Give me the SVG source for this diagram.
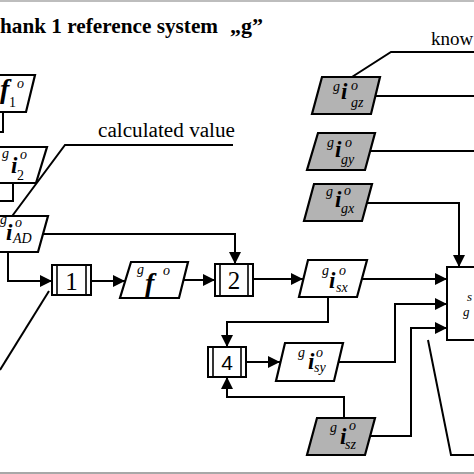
<svg xmlns="http://www.w3.org/2000/svg" width="474" height="474" viewBox="0 0 474 474">
<defs>
<marker id="ah" markerUnits="userSpaceOnUse" markerWidth="12" markerHeight="12" refX="12" refY="6" orient="auto">
<path d="M0,0 L12,6 L0,12 z" fill="#000"/>
</marker>
<style>
.pg{fill:#fff;stroke:#000;stroke-width:2.2}
.gr{fill:#b3b3b3;stroke:#000;stroke-width:2.2}
.bx{fill:#fff;stroke:#000;stroke-width:2}
.in{stroke:#000;stroke-width:1.6}
.ln{fill:none;stroke:#000;stroke-width:2}
.ar{fill:none;stroke:#000;stroke-width:2;marker-end:url(#ah)}
.t{font-family:"Liberation Serif","Times New Roman",serif;fill:#000}
.sup{font-family:"Liberation Serif",serif;font-style:italic;font-size:14px}
.bi{font-family:"Liberation Serif",serif;font-style:italic;font-weight:bold;font-size:23px}
.bf{font-family:"Liberation Serif",serif;font-style:italic;font-weight:bold;font-size:28px}
.sub{font-family:"Liberation Serif",serif;font-style:italic;font-size:14px}
.subu{font-family:"Liberation Serif",serif;font-size:14px}
.num{font-family:"Liberation Serif",serif;font-size:25px;text-anchor:middle}
.num4{font-family:"Liberation Sans",sans-serif;font-size:21px;text-anchor:middle}
.sm{font-family:"Liberation Serif",serif;font-style:italic;font-size:13px}
</style>
</defs>
<rect x="0" y="0" width="474" height="2" fill="#bdbdbd"/>
<rect x="0" y="472" width="474" height="2" fill="#a8a8a8"/>

<g id="title">
<text class="t" x="0" y="33" font-size="21" font-weight="bold" textLength="218" lengthAdjust="spacingAndGlyphs">hank 1 reference system</text>
<text class="t" x="230" y="33" font-size="21" font-weight="bold" textLength="33" lengthAdjust="spacingAndGlyphs">„g”</text>
</g>
<g id="label-calculated">
<text class="t" x="98" y="137" font-size="20" textLength="137" lengthAdjust="spacingAndGlyphs">calculated value</text>
</g>
<g id="label-known">
<text class="t" x="431" y="45" font-size="19">know</text>
</g>

<g id="connectors">
<path class="ln" d="M3,112 V132 H-2"/>
<path class="ln" d="M13,183 V201 H-2"/>
<path class="ln" d="M233,145 H65 L7,223"/>
<path class="ar" d="M43,234 H235 V264"/>
<path class="ar" d="M8,252 V281 H52"/>
<path class="ar" d="M91,281 H125"/>
<path class="ar" d="M184,280 H215"/>
<path class="ar" d="M253,279 H303"/>
<path class="ar" d="M362,279 H447"/>
<path class="ar" d="M328,297 V322 H227 V347"/>
<path class="ar" d="M246,362 H280"/>
<path class="ar" d="M339,362 H395 V304 H447"/>
<path class="ar" d="M344,418 V397 H227 V377"/>
<path class="ar" d="M370,436 H411 V328 H447"/>
<path class="ar" d="M367,203 H459 V267"/>
<path class="ln" d="M370,151 H476"/>
<path class="ln" d="M376,96 H476"/>
<path class="ln" d="M476,52 H391 L341,84"/>
<path class="ln" d="M49,291 L0,370"/>
<path class="ln" d="M428,340 L451,455 H476"/>
</g>

<g id="node-f1">
<polygon class="pg" points="-10,75 35,75 26,112 -19,112"/>
<text class="bf" x="0" y="98">f</text>
<text class="sup" x="17" y="88">o</text>
<text class="subu" x="9" y="107">1</text>
</g>
<g id="node-i2">
<polygon class="pg" points="-10,147 47,147 36,183 -20,183"/>
<text class="sup" x="2" y="158">g</text>
<text class="bi" x="11" y="173">i</text>
<text class="sup" x="20" y="159">o</text>
<text class="subu" x="17" y="180">2</text>
</g>
<g id="node-iAD">
<polygon class="pg" points="-10,216 48,216 38,252 -20,252"/>
<text class="sup" x="0" y="224">g</text>
<text class="bi" x="6" y="240">i</text>
<text class="sup" x="15" y="227">o</text>
<text class="sub" x="13" y="243">AD</text>
</g>
<g id="node-fo">
<polygon class="pg" points="131,262 188,262 179,298 120,298"/>
<text class="sup" x="137" y="274">g</text>
<text class="bf" x="145" y="292">f</text>
<text class="sup" x="163" y="275">o</text>
</g>
<g id="node-1">
<rect class="bx" x="52" y="265" width="39" height="30"/>
<line class="in" x1="57" y1="265" x2="57" y2="295"/>
<line class="in" x1="86" y1="265" x2="86" y2="295"/>
<text class="num" x="71.5" y="290">1</text>
</g>
<g id="node-2">
<rect class="bx" x="215" y="264" width="38" height="32"/>
<line class="in" x1="220" y1="264" x2="220" y2="296"/>
<line class="in" x1="248" y1="264" x2="248" y2="296"/>
<text class="num" x="234" y="289">2</text>
</g>
<g id="node-4">
<rect class="bx" x="208" y="347" width="38" height="30"/>
<line class="in" x1="213" y1="347" x2="213" y2="377"/>
<line class="in" x1="241" y1="347" x2="241" y2="377"/>
<text class="num4" x="227" y="370">4</text>
</g>
<g id="node-isx">
<polygon class="pg" points="308,260 367,260 357,297 299,297"/>
<text class="sup" x="322" y="275">g</text>
<text class="bi" x="329" y="288">i</text>
<text class="sup" x="339" y="275">o</text>
<text class="sub" x="336" y="292">sx</text>
</g>
<g id="node-isy">
<polygon class="pg" points="285,343 343,343 334,381 276,381"/>
<text class="sup" x="298" y="357">g</text>
<text class="bi" x="308" y="369">i</text>
<text class="sup" x="316" y="357">o</text>
<text class="sub" x="314" y="372">sy</text>
</g>
<g id="node-isz">
<polygon class="gr" points="317,418 375,418 365,455 307,455"/>
<text class="sup" x="330" y="432">g</text>
<text class="bi" x="340" y="444">i</text>
<text class="sup" x="349" y="430">o</text>
<text class="sub" x="345" y="449">sz</text>
</g>
<g id="node-igz">
<polygon class="gr" points="322,77 380,77 371,114 312,114"/>
<text class="sup" x="333" y="91">g</text>
<text class="bi" x="341" y="99">i</text>
<text class="sup" x="351" y="90">o</text>
<text class="sub" x="351" y="107">gz</text>
</g>
<g id="node-igy">
<polygon class="gr" points="318,133 375,133 365,170 307,170"/>
<text class="sup" x="327" y="147">g</text>
<text class="bi" x="335" y="157">i</text>
<text class="sup" x="345" y="147">o</text>
<text class="sub" x="341" y="164">gy</text>
</g>
<g id="node-igx">
<polygon class="gr" points="314,184 372,184 362,221 304,221"/>
<text class="sup" x="326" y="196">g</text>
<text class="bi" x="335" y="207">i</text>
<text class="sup" x="344" y="195">o</text>
<text class="sub" x="341" y="213">gx</text>
</g>
<g id="node-big">
<rect class="bx" x="447" y="267" width="40" height="73"/>
<text class="sm" x="467" y="301">s</text>
<text class="sm" x="463" y="316">g</text>
</g>
</svg>
